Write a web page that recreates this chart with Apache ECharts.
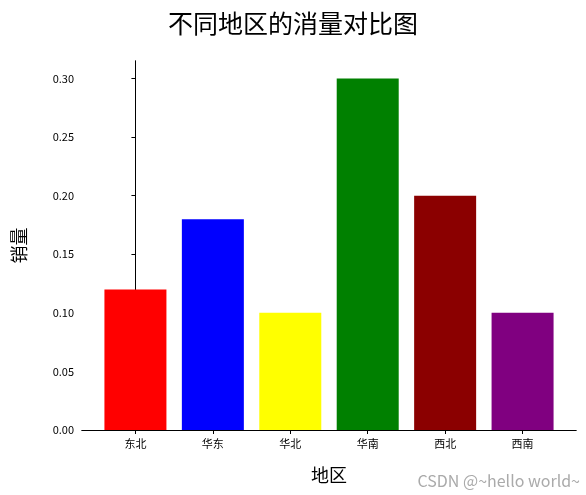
<!DOCTYPE html>
<html>
<head>
<meta charset="utf-8">
<script src="https://cdn.jsdelivr.net/npm/echarts@6/dist/echarts.min.js"></script>
<style>html,body{margin:0;padding:0;background:#fff}#main{width:586px;height:495px}</style>
</head>
<body>
<div id="main"></div>
<script>
const regions = ["东北", "华东", "华北", "华南", "西北", "西南"];
const sales = [0.12, 0.18, 0.10, 0.30, 0.20, 0.10];
const colors = ["#ff0000", "#0000ff", "#ffff00", "#008000", "#8b0000", "#800080"];
const yTicks = [0, 0.05, 0.10, 0.15, 0.20, 0.25, 0.30];

const font = "Noto Sans CJK SC";
const chart = echarts.init(document.getElementById("main"));

const frameAxis = {
  show: true,
  axisLine: { show: true, lineStyle: { color: "#000", width: 1 } },
  axisTick: { show: false },
  axisLabel: { show: false },
  splitLine: { show: false }
};

chart.setOption({
  animation: false,
  textStyle: { fontFamily: font },
  title: {
    text: "不同地区的消量对比图",
    left: "center",
    top: 6,
    textStyle: { fontSize: 25, fontWeight: "normal", color: "#000", fontFamily: font }
  },
  graphic: [{
    type: "text", right: 6, bottom: 6,
    style: { text: "CSDN @~hello world~", fill: "#aaa", font: "16px " + font }
  }],
  grid: { left: 82, right: 10, top: 61, bottom: 65 },
  xAxis: [{
    type: "value", min: -0.69, max: 5.69,
    interval: 1,
    name: "地区", nameLocation: "middle", nameGap: 36,
    nameTextStyle: { fontSize: 18, color: "#000", fontFamily: font },
    axisLine: { show: true, onZero: false, lineStyle: { color: "#000" } },
    axisTick: { show: true, inside: false, length: 4, lineStyle: { color: "#000" },
      customValues: regions.map((_, i) => i) },
    axisLabel: { color: "#000", fontSize: 11, margin: 8,
      customValues: regions.map((_, i) => i),
      formatter: v => regions[Math.round(v)] || "" },
    splitLine: { show: false }
  }, Object.assign({ type: "value", min: -0.69, max: 5.69, position: "top" }, frameAxis)],
  yAxis: [{
    type: "value", min: 0, max: 0.315, interval: 0.05,
    name: "销量", nameLocation: "middle", nameGap: 54,
    nameTextStyle: { fontSize: 18, color: "#000", fontFamily: font },
    axisLine: { show: true, lineStyle: { color: "#000" } },
    axisTick: { show: true, length: 4, lineStyle: { color: "#000" }, customValues: yTicks },
    axisLabel: { color: "#000", fontSize: 11, customValues: yTicks,
      formatter: v => v.toFixed(2) },
    splitLine: { show: false }
  }, Object.assign({ type: "value", min: 0, max: 0.315, position: "right" }, frameAxis)],
  series: [{
    type: "bar",
    barWidth: 62,
    data: sales.map((v, i) => ({ value: [i, v], itemStyle: { color: colors[i] } }))
  }]
});
</script>
</body>
</html>
